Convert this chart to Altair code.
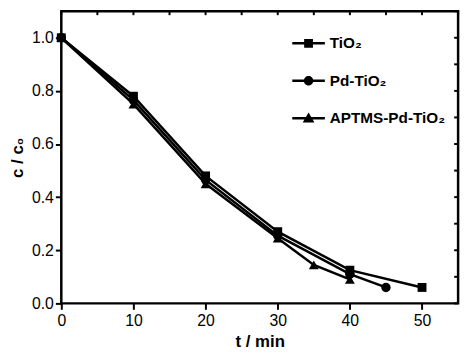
import altair as alt
import pandas as pd

series_names = ["TiO₂", "Pd-TiO₂", "APTMS-Pd-TiO₂"]

t_tio2 = [0, 10, 20, 30, 40, 50]
c_tio2 = [1.0, 0.78, 0.48, 0.27, 0.125, 0.06]

t_pd = [0, 10, 20, 30, 40, 45]
c_pd = [1.0, 0.765, 0.465, 0.255, 0.11, 0.06]

t_ap = [0, 10, 20, 30, 35, 40]
c_ap = [1.0, 0.75, 0.45, 0.245, 0.145, 0.09]

x_ticks = list(range(0, 56, 5))
y_ticks = [round(i * 0.1, 1) for i in range(0, 12)]

rows = []
for name, ts, cs in zip(series_names, [t_tio2, t_pd, t_ap], [c_tio2, c_pd, c_ap]):
    for t, c in zip(ts, cs):
        rows.append({"series": name, "t": t, "c": c})
df = pd.DataFrame(rows)
xt_df = pd.DataFrame({"t": x_ticks})
yt_df = pd.DataFrame({"c": y_ticks})

FONT = "Liberation Sans"
W, H = 402, 296
xscale = alt.Scale(domain=[0, 55], nice=False, zero=False)
yscale = alt.Scale(domain=[0, 1.1], nice=False, zero=False)

x_main = alt.X(
    "t:Q", scale=xscale,
    axis=alt.Axis(
        values=x_ticks,
        labelExpr="datum.value % 10 === 0 ? datum.label : ''",
        tickSize={"condition": {"test": "datum.value % 10 !== 0", "value": 3}, "value": 6},
        title="t / min", titleFontWeight="bold", titleFontSize=17, titlePadding=6,
        labelPadding=3, labelFlush=False,
    ),
)
y_main = alt.Y(
    "c:Q", scale=yscale,
    axis=alt.Axis(
        values=y_ticks,
        labelExpr="round(datum.value*10) % 2 === 0 && datum.value < 1.05 ? format(datum.value, '.1f') : ''",
        tickSize={"condition": {"test": "round(datum.value*10) % 2 === 1", "value": 3}, "value": 6},
        title="c / c₀", titleFontWeight="bold", titleFontSize=17, titlePadding=5,
        labelPadding=2, labelFlush=False,
    ),
)

lines = alt.Chart(df).mark_line(color="black", strokeWidth=2.5).encode(
    x=x_main, y=y_main, detail="series:N"
)

points = alt.Chart(df).mark_point(filled=True, color="black", opacity=1).encode(
    x=alt.X("t:Q", scale=xscale),
    y=alt.Y("c:Q", scale=yscale),
    shape=alt.Shape("series:N", scale=alt.Scale(domain=series_names, range=["square", "circle", "triangle-up"]), legend=None),
    size=alt.Size("series:N", scale=alt.Scale(domain=series_names, range=[81, 100, 120]), legend=None),
)

# legend symbols: a thick line segment (two halves) plus the marker, as filled unit-square paths
bar = "M-1,-0.075H-0.15V0.075H-1ZM0.15,-0.075H1V0.075H0.15Z"
legend_paths = [
    bar + "M-0.27,-0.27H0.27V0.27H-0.27Z",
    bar + "M-0.29,0A0.29,0.29 0 1,1 0.29,0A0.29,0.29 0 1,1 -0.29,0Z",
    bar + "M-0.36,0.26L0,-0.36L0.36,0.26Z",
]

legend_layer = alt.Chart(df).transform_calculate(leg="datum.series").mark_point(
    filled=True, color="black", opacity=0
).encode(
    x=alt.X("t:Q", scale=xscale),
    y=alt.Y("c:Q", scale=yscale),
    shape=alt.Shape(
        "leg:N",
        scale=alt.Scale(domain=series_names, range=legend_paths),
        legend=alt.Legend(
            title=None, orient="none", legendX=234, legendY=16,
            symbolSize=1089, symbolOpacity=1, symbolFillColor="black",
            symbolStrokeWidth=0,
            labelFont=FONT, labelFontSize=15.5, labelFontWeight="bold",
            labelColor="black", rowPadding=13, labelOffset=5, padding=0,
        ),
    ),
)

top_ticks = alt.Chart(xt_df).mark_rule(color="black", strokeWidth=2).encode(
    x=alt.X("t:Q", scale=xscale), y=alt.value(0), y2=alt.value(4)
)
right_ticks = alt.Chart(yt_df).mark_rule(color="black", strokeWidth=2).encode(
    y=alt.Y("c:Q", scale=yscale), x=alt.value(W - 4), x2=alt.value(W)
)

chart = alt.layer(lines, points, legend_layer, top_ticks, right_ticks).resolve_scale(
    shape="independent", size="independent"
).properties(
    width=W, height=H,
    autosize=alt.AutoSizeParams(type="none"),
    padding={"left": 54, "top": 1, "right": 8, "bottom": 47},
).configure_view(
    stroke="black", strokeWidth=2.5
).configure_axis(
    domain=False, grid=False, tickColor="black", tickWidth=2,
    labelFont=FONT, labelFontSize=16, labelColor="black",
    titleFont=FONT, titleColor="black",
)

chart.save("out.html", embed_options={"renderer": "svg", "actions": False})
